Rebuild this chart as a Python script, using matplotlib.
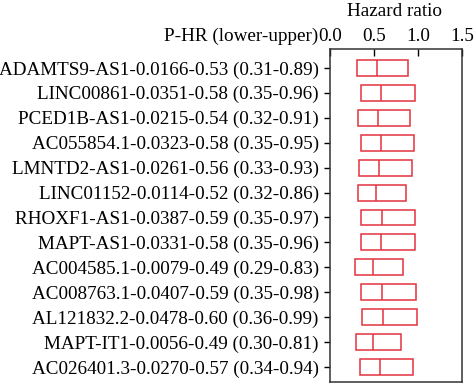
import matplotlib.pyplot as plt
import numpy as np

genes = ["ADAMTS9-AS1", "LINC00861", "PCED1B-AS1", "AC055854.1", "LMNTD2-AS1",
         "LINC01152", "RHOXF1-AS1", "MAPT-AS1", "AC004585.1", "AC008763.1",
         "AL121832.2", "MAPT-IT1", "AC026401.3"]
pvals = ["0.0166", "0.0351", "0.0215", "0.0323", "0.0261", "0.0114", "0.0387",
         "0.0331", "0.0079", "0.0407", "0.0478", "0.0056", "0.0270"]
hr = [0.53, 0.58, 0.54, 0.58, 0.56, 0.52, 0.59, 0.58, 0.49, 0.59, 0.60, 0.49, 0.57]
lower = [0.31, 0.35, 0.32, 0.35, 0.33, 0.32, 0.35, 0.35, 0.29, 0.35, 0.36, 0.30, 0.34]
upper = [0.89, 0.96, 0.91, 0.95, 0.93, 0.86, 0.97, 0.96, 0.83, 0.98, 0.99, 0.81, 0.94]


def main():
    plt.rcParams['font.family'] = ['Liberation Serif', 'DejaVu Serif']
    red = '#e2323f'
    fs = 13.8

    fig = plt.figure(figsize=(4.74, 3.84), dpi=100)
    ax = fig.add_axes([0.696, 0.005, 0.279, 0.867])

    ys = np.arange(len(genes))
    lo = np.array(lower)
    up = np.array(upper)
    h = 0.64
    ax.barh(ys, up - lo, left=lo, height=h, facecolor='none',
            edgecolor=red, linewidth=1.1)
    ax.vlines(hr, ys - h / 2, ys + h / 2, color=red, linewidth=1.1)

    labels = [f'{g}-{p}-{v:.2f} ({l:.2f}-{u:.2f})'
              for g, p, v, l, u in zip(genes, pvals, hr, lower, upper)]
    ax.set_yticks(ys)
    ax.set_yticklabels(labels, fontsize=fs)
    ax.set_ylim(len(genes) - 0.4, -0.75)

    ax.set_xlim(0, 1.5)
    ax.set_xticks([0.0, 0.5, 1.0, 1.5])
    ax.set_xticklabels(['0.0', '0.5', '1.0', '1.5'], fontsize=fs)
    ax.xaxis.tick_top()
    ax.tick_params(axis='x', direction='in', length=5, width=1, pad=3)
    ax.tick_params(axis='y', direction='out', length=4, width=1, pad=4)
    for s in ax.spines.values():
        s.set_color('#333333')
        s.set_linewidth(1.1)

    fig.text(0.833, 0.969, 'Hazard ratio', ha='center', va='center', fontsize=fs)
    fig.text(0.672, 0.905, 'P-HR (lower-upper)', ha='right', va='center',
             fontsize=fs)

    plt.savefig('out.png', dpi=100)


if __name__ == '__main__':
    main()
